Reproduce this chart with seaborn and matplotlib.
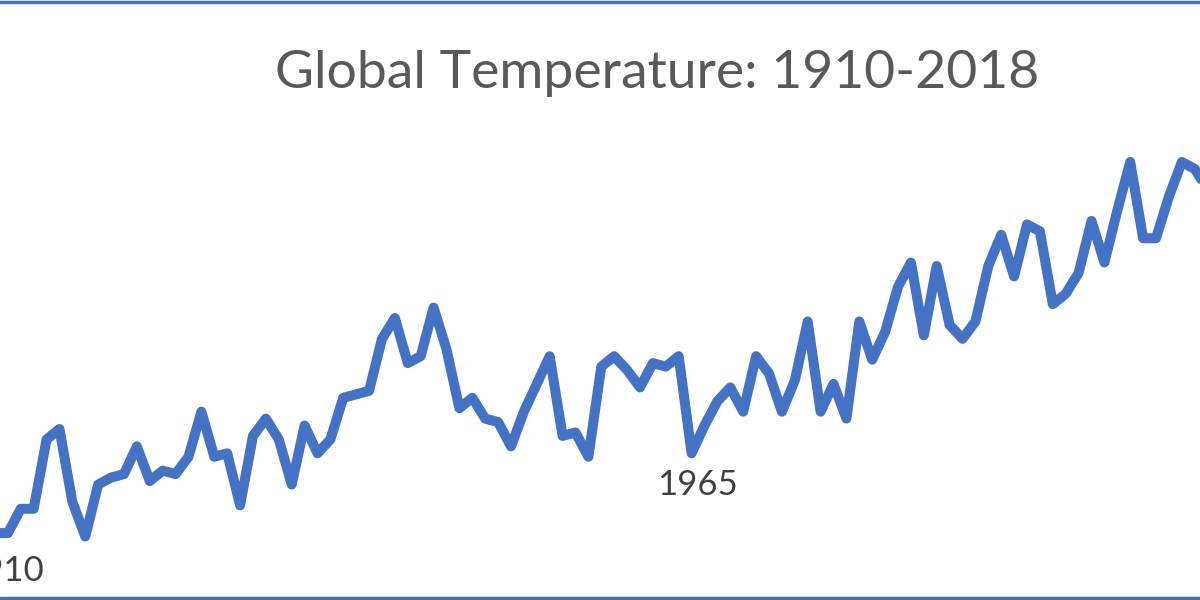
import matplotlib
matplotlib.use('Agg')
import matplotlib.pyplot as plt
from matplotlib.lines import Line2D
import pandas as pd
import seaborn as sns

# Yearly global temperature anomaly (deg C)
years = list(range(1910, 2005))
temps = [-0.44, -0.44, -0.37, -0.37, -0.17, -0.14, -0.35, -0.45, -0.30, -0.28,
         -0.27, -0.19, -0.29, -0.26, -0.27, -0.22, -0.09, -0.22, -0.21, -0.36,
         -0.16, -0.11, -0.17, -0.30, -0.13, -0.21, -0.17, -0.05, -0.04, -0.03,
         0.12, 0.18, 0.05, 0.07, 0.21, 0.09, -0.08, -0.05, -0.11, -0.12,
         -0.19, -0.09, -0.01, 0.07, -0.16, -0.15, -0.22, 0.04, 0.07, 0.03,
         -0.02, 0.05, 0.04, 0.07, -0.21, -0.13, -0.06, -0.02, -0.09, 0.07,
         0.02, -0.09, 0.00, 0.17, -0.09, -0.01, -0.11, 0.17, 0.06, 0.14,
         0.27, 0.34, 0.13, 0.33, 0.16, 0.12, 0.17, 0.33, 0.42, 0.30,
         0.45, 0.43, 0.22, 0.25, 0.31, 0.46, 0.34, 0.49, 0.63, 0.41,
         0.41, 0.53, 0.63, 0.61, 0.55]

# years that get a label under the point
label_years = [1910, 1965]

df = pd.DataFrame({'Year': years, 'Temp': temps})

sns.set_style('white')
plt.rcParams['font.family'] = ['Lato', 'DejaVu Sans']

fig = plt.figure(figsize=(12, 6), dpi=100)
ax = fig.add_axes([0, 0, 1, 1])

sns.lineplot(ax=ax, data=df, x='Year', y='Temp', color='#4472C4', linewidth=7.2,
             solid_joinstyle='round', solid_capstyle='round')

# the picture is a crop of the original chart
ax.set_xlim(1910.39, 2003.41)
ax.set_ylim(-0.633, 1.097)
ax.axis('off')

# data labels (offsets in points)
offsets = {1910: (6, -27), 1965: (-5, -43)}
for yr in label_years:
    val = df.loc[df['Year'] == yr, 'Temp'].iloc[0]
    ax.annotate(str(yr), xy=(yr, val), xytext=offsets[yr], textcoords='offset points',
                ha='center', va='center', fontsize=25, color='#404040',
                annotation_clip=False)

fig.text(0.548, 0.878, 'Global Temperature: 1910-2018', ha='center', va='center',
         fontsize=38.5, color='#595959')

# thin blue frame lines at top and bottom
fig.add_artist(Line2D([0, 1], [0.997, 0.997], transform=fig.transFigure, color='#4a6db3', lw=2.5))
fig.add_artist(Line2D([0, 1], [0.003, 0.003], transform=fig.transFigure, color='#4a6db3', lw=2.5))

plt.savefig('out.png', dpi=100)
